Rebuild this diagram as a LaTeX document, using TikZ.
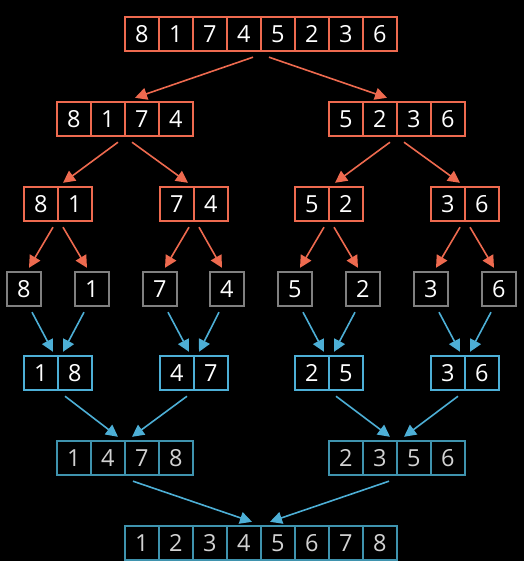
\documentclass[tikz,border=0pt]{standalone}
\usepackage{fontspec}
\setmainfont{Open Sans}
\usetikzlibrary{calc,arrows.meta}
\definecolor{org}{HTML}{EE6A4F}
\definecolor{blu}{HTML}{4DAFD6}
\definecolor{teal2}{HTML}{3F93AE}
\definecolor{gry}{HTML}{808080}
\definecolor{lgt}{HTML}{D2D2D2}
\tikzset{
  grp/.style={inner sep=0pt, minimum height=34pt},
  cell/.style={draw, line width=1.6pt, fill=black, text=white, inner sep=0pt,
    minimum width=34pt, minimum height=34pt,
    font=\fontsize{23.5}{23.5}\selectfont},
  ocell/.style={cell, draw=org},
  gcell/.style={cell, draw=gry},
  bcell/.style={cell, draw=blu},
  tcell/.style={cell, draw=teal2, text=lgt},
  oarr/.style={draw=org, line width=1.6pt, -{Triangle[length=12pt,width=12pt]}},
  barr/.style={draw=blu, line width=1.6pt, -{Triangle[length=12pt,width=12pt]}},
}
\newcommand\cellrow[6]{% name, n, x, y, style, list
  \node[grp, minimum width=#2*34pt] (#1) at (#3,#4) {};
  \foreach \v [count=\i] in {#6} {
    \node[#5] (#1-\i) at ($(#1.west)+(\i*34-17,0)$) {\v};
  }
}
\newcommand\conn[5]{% style, src, dx1, dst, dx2
  \draw[#1] ($(#2.south)+(#3,6)$) -- ($(#4.north)+(#5,-4)$);
}
\begin{document}
\begin{tikzpicture}[x=1pt,y=-1pt]
\fill[black] (0,0) rectangle (524,561);
\useasboundingbox (0,0) rectangle (524,561);
% level 1
\cellrow{a}{8}{261}{34}{ocell}{8,1,7,4,5,2,3,6}
% level 2
\cellrow{bl}{4}{125}{119}{ocell}{8,1,7,4}
\cellrow{br}{4}{397}{119}{ocell}{5,2,3,6}
% level 3
\cellrow{c1}{2}{58}{204}{ocell}{8,1}
\cellrow{c2}{2}{194}{204}{ocell}{7,4}
\cellrow{c3}{2}{329}{204}{ocell}{5,2}
\cellrow{c4}{2}{465}{204}{ocell}{3,6}
% leaves
\cellrow{d1}{1}{24}{289}{gcell}{8}
\cellrow{d2}{1}{92}{289}{gcell}{1}
\cellrow{d3}{1}{160}{289}{gcell}{7}
\cellrow{d4}{1}{227}{289}{gcell}{4}
\cellrow{d5}{1}{295}{289}{gcell}{5}
\cellrow{d6}{1}{363}{289}{gcell}{2}
\cellrow{d7}{1}{431}{289}{gcell}{3}
\cellrow{d8}{1}{499}{289}{gcell}{6}
% merge level 1
\cellrow{e1}{2}{58}{373}{bcell}{1,8}
\cellrow{e2}{2}{194}{373}{bcell}{4,7}
\cellrow{e3}{2}{329}{373}{bcell}{2,5}
\cellrow{e4}{2}{465}{373}{bcell}{3,6}
% merge level 2
\cellrow{fl}{4}{125}{458}{tcell}{1,4,7,8}
\cellrow{fr}{4}{397}{458}{tcell}{2,3,5,6}
% result
\cellrow{g}{8}{261}{543}{tcell}{1,2,3,4,5,6,7,8}
% split arrows
\conn{oarr}{a}{-8}{bl}{10}
\conn{oarr}{a}{8}{br}{-10}
\conn{oarr}{bl}{-7}{c1}{5}
\conn{oarr}{bl}{7}{c2}{-6}
\conn{oarr}{br}{-7}{c3}{6}
\conn{oarr}{br}{7}{c4}{-5}
\conn{oarr}{c1}{-5}{d1}{5}
\conn{oarr}{c1}{5}{d2}{-5}
\conn{oarr}{c2}{-5}{d3}{5}
\conn{oarr}{c2}{5}{d4}{-5}
\conn{oarr}{c3}{-5}{d5}{5}
\conn{oarr}{c3}{5}{d6}{-5}
\conn{oarr}{c4}{-5}{d7}{5}
\conn{oarr}{c4}{5}{d8}{-5}
% merge arrows
\conn{barr}{d1}{8}{e1}{-5}
\conn{barr}{d2}{-8}{e1}{5}
\conn{barr}{d3}{8}{e2}{-5}
\conn{barr}{d4}{-8}{e2}{5}
\conn{barr}{d5}{8}{e3}{-5}
\conn{barr}{d6}{-8}{e3}{5}
\conn{barr}{d7}{8}{e4}{-5}
\conn{barr}{d8}{-8}{e4}{5}
\conn{barr}{e1}{7}{fl}{-7}
\conn{barr}{e2}{-7}{fl}{7}
\conn{barr}{e3}{7}{fr}{-7}
\conn{barr}{e4}{-7}{fr}{7}
\conn{barr}{fl}{8}{g}{-9}
\conn{barr}{fr}{-8}{g}{9}
\end{tikzpicture}
\end{document}
